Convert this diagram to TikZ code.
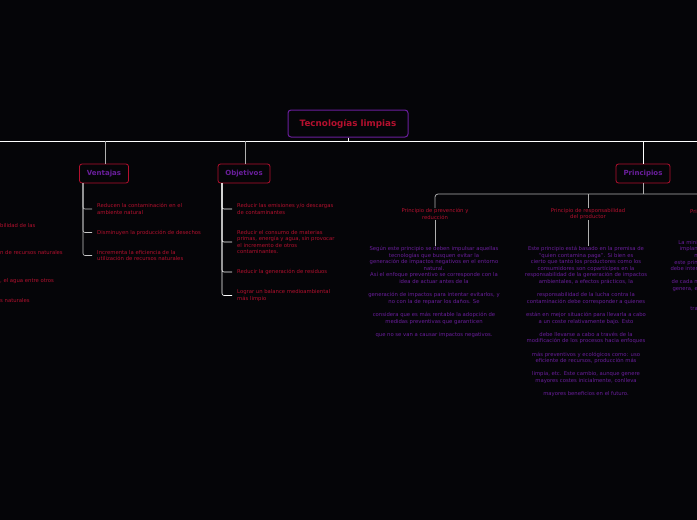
\documentclass[tikz,border=0pt]{standalone}
\usepackage{fontspec}
\setmainfont{DejaVu Sans}
\definecolor{bg}{HTML}{050508}
\definecolor{rd}{HTML}{B4102E}
\definecolor{pu}{HTML}{6A1E9C}
\definecolor{ln}{HTML}{B0B0B0}
\begin{document}
\begin{tikzpicture}[x=1pt,y=-1pt,
  root/.style={draw=pu,line width=1pt,rounded corners=3pt,fill=bg,text=rd,font=\bfseries\fontsize{8.8}{10}\selectfont,minimum width=120pt,minimum height=27pt},
  cat/.style={draw=rd,line width=0.8pt,rounded corners=2.5pt,fill=bg,text=pu,font=\bfseries\fontsize{7}{8}\selectfont,minimum height=19pt,inner xsep=3pt},
  leaf/.style={text=rd,font=\fontsize{5.3}{6.8}\selectfont,align=left,anchor=west,inner xsep=5pt,inner ysep=0pt},
  ptitle/.style={text=rd,font=\fontsize{5.3}{6.8}\selectfont,align=center,inner sep=0pt},
  desc/.style={text=pu,font=\fontsize{5.3}{6.6}\selectfont,align=center,anchor=north,inner sep=0pt},
  conn/.style={draw=ln,line width=0.8pt,rounded corners=3pt},
  tick/.style={draw=ln!70,line width=0.6pt,rounded corners=2pt}]
\fill[bg] (0,0) rectangle (697,520);
\clip (0,0) rectangle (697,520);
\node[root] (root) at (348,123.5) {Tecnologías limpias};
\coordinate (hl) at (0,141); \coordinate (hr) at (697,141);
\draw[conn,draw=white] (hl) -- (hr);
\draw[conn,draw=white] (root.south) -- (348,141);
\node[cat,minimum width=49pt] (ven) at (104,173.5) {Ventajas};
\node[cat,minimum width=52pt] (obj) at (244,173.5) {Objetivos};
\node[cat,minimum width=54pt] (pri) at (643,173.5) {Principios};
\draw[conn] (105,141) -- (ven.north -| 105,0);
\draw[conn] (245,141) -- (obj.north -| 245,0);
\draw[conn,draw=white] (643,141) -- (pri.north);
% Ventajas
\node[leaf] (v1) at (92,209) {Reducen la contaminación en el\\ambiente natural};
\node[leaf] (v2) at (92,232.5) {Disminuyen la producción de desechos};
\node[leaf] (v3) at (92,255.5) {Incrementa la eficiencia de la\\utilización de recursos naturales};
\foreach \n in {v1,v2,v3}{\draw[tick] (83,183) |- (\n.west);}
% Objetivos
\node[leaf] (o1) at (232,209) {Reducir las emisiones y/o descargas\\de contaminantes};
\node[leaf,font=\fontsize{5.3}{6.2}\selectfont] (o2) at (232,242) {Reducir el consumo de materias\\primas, energía y agua, sin provocar\\el incremento de otros\\contaminantes.};
\node[leaf] (o3) at (232,272) {Reducir la generación de residuos};
\node[leaf] (o4) at (232,295.5) {Lograr un balance medioambiental\\más limpio};
\foreach \n in {o1,o2,o3,o4}{\draw[tick,draw=white!80] (222,183) |- (\n.west);}
% left cut fragments
\node[leaf,inner xsep=0pt] at (0,226) {bilidad de las};
\node[leaf,inner xsep=0pt] at (0,253) {n de recursos naturales};
\node[leaf,inner xsep=0pt] at (0,281) {, el agua entre otros};
\node[leaf,inner xsep=0pt] at (0,301) {s naturales};
% Principios
\coordinate (pj) at (643,194);
\draw[conn] (pri.south) -- (pj);
\node[ptitle] (p1) at (435,214) {Principio de prevención y\\reducción};
\node[ptitle] (p2) at (588,214) {Principio de responsabilidad\\del productor};
\node[ptitle,anchor=west] (p3) at (690,211) {Pri};
\draw[conn] (p1.north) -- (435,194) -- (697,194);
\draw[conn] (p2.north) -- (588,194);
\node[desc] (d1) at (434,246) {Según este principio se deben impulsar aquellas\\tecnologías que busquen evitar la\\generación de impactos negativos en el entorno\\natural.\\Así el enfoque preventivo se corresponde con la\\idea de actuar antes de la\\[6.6pt]generación de impactos para intentar evitarlos, y\\no con la de reparar los daños. Se\\[6.6pt]considera que es más rentable la adopción de\\medidas preventivas que garanticen\\[6.6pt]que no se van a causar impactos negativos.};
\node[desc] (d2) at (586,246) {Este principio está basado en la premisa de\\“quien contamina paga”. Si bien es\\cierto que tanto los productores como los\\consumidores son copartícipes en la\\responsabilidad de la generación de impactos\\ambientales, a efectos prácticos, la\\[6.6pt]responsabilidad de la lucha contra la\\contaminación debe corresponder a quienes\\[6.6pt]están en mejor situación para llevarla a cabo\\a un coste relativamente bajo. Esto\\[6.6pt]debe llevarse a cabo a través de la\\modificación de los procesos hacia enfoques\\[6.6pt]más preventivos y ecológicos como: uso\\eficiente de recursos, producción más\\[6.6pt]limpia, etc. Este cambio, aunque genere\\mayores costes inicialmente, conlleva\\[6.6pt]mayores beneficios en el futuro.};
\node[desc,anchor=north east,align=right] (d3) at (698,240) {La mini\\implan\\n\\este prin\\debe inter\\[6.6pt]de cada n\\genera, e\\[13.2pt]tra};
\draw[conn] (p1.south) -- (p1.south |- d1.north);
\draw[conn] (p2.south) -- (p2.south |- d2.north);
\end{tikzpicture}
\end{document}
